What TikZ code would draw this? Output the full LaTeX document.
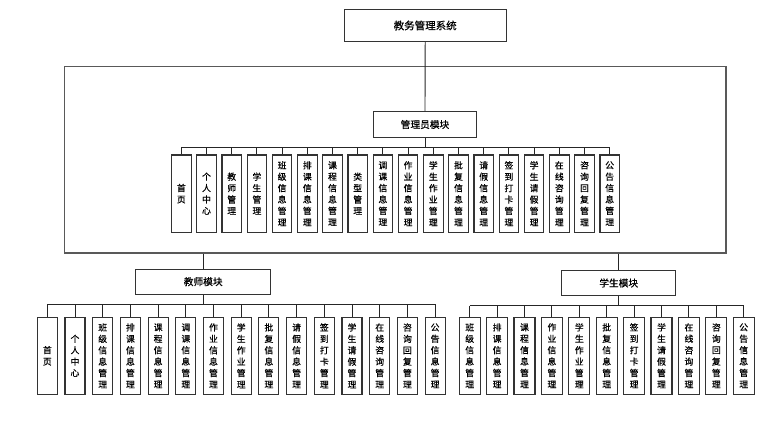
\documentclass[tikz,border=0pt]{standalone}
\usepackage{fontspec}
\setmainfont[FakeBold=0.6]{Noto Sans CJK SC}
\begin{document}
\begin{tikzpicture}[x=1pt,y=-1pt]
\tikzset{
 box/.style={draw=black!80, line width=1.1pt, inner sep=0pt, fill=white, font=\fontsize{9.7}{11}\selectfont},
 vbox/.style={box, align=center, font=\fontsize{8.8}{11.4}\selectfont},
 conn/.style={draw=black!85, line width=0.9pt},
 fr/.style={draw=black!65, line width=1.1pt, inner sep=0pt}
}
\useasboundingbox (0,0) rectangle (775,420);
\node[fr, minimum width=661.5pt, minimum height=186.3pt] (frame) at (395.25,159.85) {};
\node[box, minimum width=162pt, minimum height=32pt, font=\fontsize{10.5}{12}\selectfont] (top) at (425.2,25.5) {教务管理系统};
\node[box, minimum width=103.4pt, minimum height=25.6pt] (am) at (425,124.5) {管理员模块};
\node[box, minimum width=135pt, minimum height=25.3pt] (tm) at (203.2,281.7) {教师模块};
\node[box, minimum width=114pt, minimum height=25.4pt] (sm) at (618.7,283) {学生模块};
% admin children
\foreach \t [count=\i] in {{首\\页},{个\\人\\中\\心},{教\\师\\管\\理},{学\\生\\管\\理},{班\\级\\信\\息\\管\\理},{排\\课\\信\\息\\管\\理},{课\\程\\信\\息\\管\\理},{类\\型\\管\\理},{调\\课\\信\\息\\管\\理},{作\\业\\信\\息\\管\\理},{学\\生\\作\\业\\管\\理},{批\\复\\信\\息\\管\\理},{请\\假\\信\\息\\管\\理},{签\\到\\打\\卡\\管\\理},{学\\生\\请\\假\\管\\理},{在\\线\\咨\\询\\管\\理},{咨\\询\\回\\复\\管\\理},{公\\告\\信\\息\\管\\理}}
  \node[vbox, minimum width=19.5pt, minimum height=77.3pt] (a\i) at ({181.3+25.2*(\i-1)},193.65) {\t};
% teacher children
\foreach \t [count=\i] in {{首\\页},{个\\人\\中\\心},{班\\级\\信\\息\\管\\理},{排\\课\\信\\息\\管\\理},{课\\程\\信\\息\\管\\理},{调\\课\\信\\息\\管\\理},{作\\业\\信\\息\\管\\理},{学\\生\\作\\业\\管\\理},{批\\复\\信\\息\\管\\理},{请\\假\\信\\息\\管\\理},{签\\到\\打\\卡\\管\\理},{学\\生\\请\\假\\管\\理},{在\\线\\咨\\询\\管\\理},{咨\\询\\回\\复\\管\\理},{公\\告\\信\\息\\管\\理}}
  \node[vbox, minimum width=20pt, minimum height=77pt] (t\i) at ({47.3+27.7*(\i-1)},355.8) {\t};
% student children
\foreach \t [count=\i] in {{班\\级\\信\\息\\管\\理},{排\\课\\信\\息\\管\\理},{课\\程\\信\\息\\管\\理},{作\\业\\信\\息\\管\\理},{学\\生\\作\\业\\管\\理},{批\\复\\信\\息\\管\\理},{签\\到\\打\\卡\\管\\理},{学\\生\\请\\假\\管\\理},{在\\线\\咨\\询\\管\\理},{咨\\询\\回\\复\\管\\理},{公\\告\\信\\息\\管\\理}}
  \node[vbox, minimum width=21pt, minimum height=76.7pt] (s\i) at ({469.7+27.4*(\i-1)},355.7) {\t};
% connectors
\coordinate (abus) at (0,147);
\coordinate (tbus) at (0,304.3);
\coordinate (sbus) at (0,305.7);
\draw[conn] (top.south) -- (am.north);
\draw[conn] (am.south) -- (am.south |- abus);
\draw[conn] (a1.north |- abus) -- (a18.north |- abus);
\foreach \i in {1,...,18} \draw[conn] (a\i.north) -- (a\i.north |- abus);
\draw[conn] (frame.south -| tm.north) -- (tm.north);
\draw[conn] (frame.south -| sm.north) -- (sm.north);
\draw[conn] (tm.south) -- (tm.south |- tbus);
\draw[conn] (t1.north |- tbus) -- (t15.north |- tbus);
\foreach \i in {1,...,15} \draw[conn] (t\i.north) -- (t\i.north |- tbus);
\draw[conn] (sm.south) -- (sm.south |- sbus);
\draw[conn] (s1.north |- sbus) -- (s11.north |- sbus);
\foreach \i in {1,...,11} \draw[conn] (s\i.north) -- (s\i.north |- sbus);
\end{tikzpicture}
\end{document}
